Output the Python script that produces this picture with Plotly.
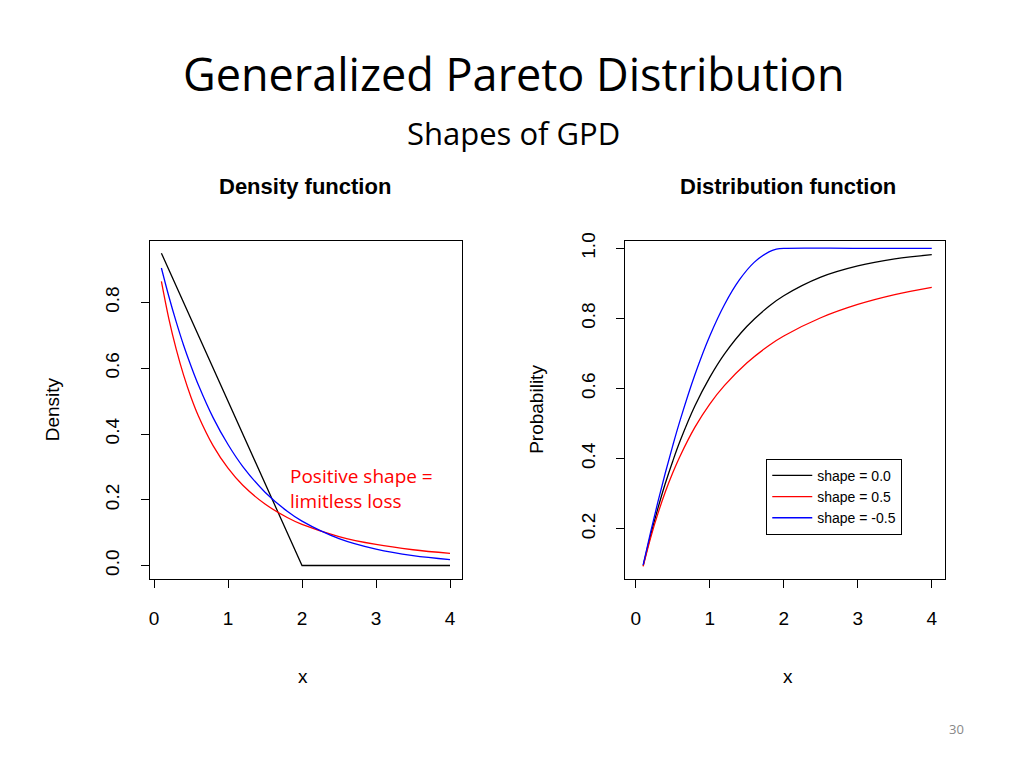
import plotly.graph_objects as go

# Density panel
dens_x_black = [0.1, 2.0, 4.0]
dens_y_black = [0.95, 0.0, 0.0]
xs = [0.1, 0.2, 0.3, 0.4, 0.5, 0.6, 0.8, 1.0, 1.2, 1.5, 1.8, 2.0, 2.5, 3.0, 3.5, 4.0]
dens_red = [0.864, 0.751, 0.658, 0.579, 0.512, 0.455, 0.364, 0.296, 0.244, 0.187, 0.146, 0.125, 0.088, 0.064, 0.048, 0.037]
dens_blue = [0.905, 0.819, 0.741, 0.670, 0.607, 0.549, 0.449, 0.368, 0.301, 0.223, 0.165, 0.135, 0.082, 0.050, 0.030, 0.018]

# Distribution panel
cdf_black = [0.095, 0.181, 0.259, 0.330, 0.393, 0.451, 0.551, 0.632, 0.699, 0.777, 0.835, 0.865, 0.918, 0.950, 0.970, 0.982]
cdf_red = [0.093, 0.174, 0.244, 0.306, 0.360, 0.408, 0.490, 0.556, 0.609, 0.673, 0.723, 0.750, 0.802, 0.840, 0.868, 0.889]
cdf_bx = [0.1, 0.2, 0.3, 0.4, 0.5, 0.6, 0.8, 1.0, 1.2, 1.4, 1.6, 1.8, 1.9, 2.0, 3.0, 4.0]
cdf_blue = [0.0975, 0.19, 0.2775, 0.36, 0.4375, 0.51, 0.64, 0.75, 0.84, 0.91, 0.96, 0.99, 0.9975, 1.0, 1.0, 1.0]

legend_names = ["shape = 0.0", "shape = 0.5", "shape = -0.5"]
x_ticks = [0, 1, 2, 3, 4]
dens_ticks = [0.0, 0.2, 0.4, 0.6, 0.8]
cdf_ticks = [0.2, 0.4, 0.6, 0.8, 1.0]

W, H = 1024, 768
DX, DY = -7, -13
def px(x): return (x + DX) / W
def py(y): return 1 - (y + DY) / H

fig = go.Figure()
lw = 1.3
fig.add_trace(go.Scatter(x=dens_x_black, y=dens_y_black, mode="lines", line=dict(color="black", width=lw), showlegend=False, xaxis="x", yaxis="y"))
fig.add_trace(go.Scatter(x=xs, y=dens_red, mode="lines", line=dict(color="red", width=lw, shape="spline"), showlegend=False, xaxis="x", yaxis="y"))
fig.add_trace(go.Scatter(x=xs, y=dens_blue, mode="lines", line=dict(color="blue", width=lw, shape="spline"), showlegend=False, xaxis="x", yaxis="y"))
fig.add_trace(go.Scatter(x=xs, y=cdf_black, mode="lines", name=legend_names[0], line=dict(color="black", width=lw, shape="spline"), xaxis="x2", yaxis="y2"))
fig.add_trace(go.Scatter(x=xs, y=cdf_red, mode="lines", name=legend_names[1], line=dict(color="red", width=lw, shape="spline"), xaxis="x2", yaxis="y2"))
fig.add_trace(go.Scatter(x=cdf_bx, y=cdf_blue, mode="lines", name=legend_names[2], line=dict(color="blue", width=lw, shape="spline"), xaxis="x2", yaxis="y2"))

tickfont = dict(family="Liberation Sans, Arial", size=19, color="black")
common = dict(showline=True, linecolor="black", linewidth=1, mirror=True, ticks="outside",
              ticklen=8, tickcolor="black", showgrid=False, zeroline=False, tickfont=tickfont,
              ticklabelstandoff=14)

fig.update_layout(
    width=W, height=H, margin=dict(l=0, r=0, t=0, b=0),
    paper_bgcolor="white", plot_bgcolor="white",
    font=dict(color="black"),
    xaxis=dict(domain=[px(148), px(460)], range=[-0.056, 4.156], tickvals=x_ticks, anchor="y", **common),
    yaxis=dict(domain=[py(582), py(240)], range=[-0.042, 0.986], tickvals=dens_ticks,
               ticktext=["0.0", "0.2", "0.4", "0.6", "0.8"], tickangle=-90, anchor="x", **common),
    xaxis2=dict(domain=[px(624), px(944)], range=[-0.14, 4.18], tickvals=x_ticks, anchor="y2", **common),
    yaxis2=dict(domain=[py(582), py(240)], range=[0.056, 1.02], tickvals=cdf_ticks,
                ticktext=["0.2", "0.4", "0.6", "0.8", "1.0"], tickangle=-90, anchor="x2", **common),
    legend=dict(x=px(765), y=py(460), xanchor="left", yanchor="top", bordercolor="black", borderwidth=1,
                bgcolor="white", font=dict(family="Liberation Sans, Arial", size=14, color="black"),
                tracegroupgap=0, itemwidth=40),
    showlegend=True,
)

ann = [
    dict(text="Generalized Pareto Distribution", x=px(512), y=py(70), font=dict(family="Open Sans, Lato", size=45, color="black")),
    dict(text="Shapes of GPD", x=px(512), y=py(130), font=dict(family="Open Sans, Lato", size=31, color="black")),
    dict(text="<b>Density function</b>", x=px(303), y=py(185), font=dict(family="Liberation Sans, Arial", size=22, color="black")),
    dict(text="<b>Distribution function</b>", x=px(787), y=py(185), font=dict(family="Liberation Sans, Arial", size=22, color="black")),
    dict(text="x", x=px(301), y=py(680), font=dict(family="Liberation Sans, Arial", size=19, color="black")),
    dict(text="x", x=px(787), y=py(680), font=dict(family="Liberation Sans, Arial", size=19, color="black")),
    dict(text="Density", x=px(50), y=py(410), textangle=-90, font=dict(family="Liberation Sans, Arial", size=19, color="black")),
    dict(text="Probability", x=px(535), y=py(410), textangle=-90, font=dict(family="Liberation Sans, Arial", size=19, color="black")),
    dict(text="Positive shape =<br>limitless loss", x=px(286), y=py(490), xanchor="left", align="left",
         font=dict(family="Open Sans, Lato", size=19, color="red")),
    dict(text="30", x=px(955), y=py(733), font=dict(family="Open Sans, Lato", size=13, color="#888888")),
]
for a in ann:
    a.setdefault("xanchor", "center")
    fig.add_annotation(xref="paper", yref="paper", showarrow=False, yanchor="middle", **a)

fig.write_html("out.html")
